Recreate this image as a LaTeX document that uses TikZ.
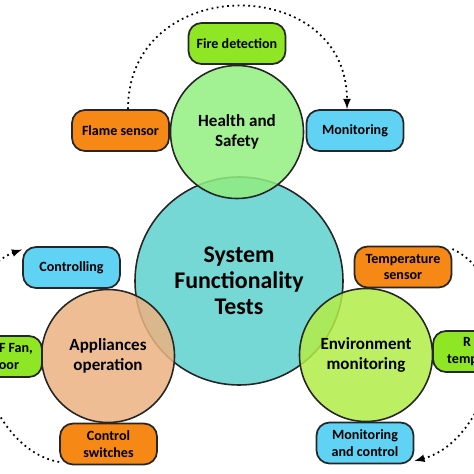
\documentclass[tikz,border=0pt]{standalone}
\usepackage{fontspec}
\setmainfont{Carlito}
\usepackage{tikz}

\definecolor{hubteal}{RGB}{118,216,212}
\definecolor{safegreen}{RGB}{146,238,128}
\definecolor{appltan}{RGB}{236,178,128}
\definecolor{envlime}{RGB}{178,236,70}
\definecolor{boxlime}{RGB}{142,230,36}
\definecolor{boxorange}{RGB}{246,136,22}
\definecolor{boxblue}{RGB}{96,210,244}

\begin{document}
\begin{tikzpicture}[x=0.2mm,y=0.2mm,
  hub/.style={circle, draw=black!85, line width=0.9pt, fill=hubteal, minimum size=41.6mm,
    align=center, font=\fontsize{13.6}{14.8}\selectfont\bfseries},
  topic/.style={circle, draw=black!85, line width=0.9pt, fill opacity=0.85, text opacity=1,
    minimum size=26.6mm, align=center, font=\fontsize{9.7}{11}\selectfont\bfseries},
  item/.style={draw=black!85, line width=1pt, rounded corners=2.6mm, minimum width=19.4mm,
    minimum height=8.2mm, inner sep=1pt, align=center, font=\fontsize{8}{9.4}\selectfont\bfseries},
  loop/.style={dotted, line width=1pt, -latex}]
\useasboundingbox (0,0) rectangle (474,-474);
\clip (0,0) rectangle (474,-474);

% centre and the three test areas
\node[hub] (sft) at (239,-281) {System\\Functionality\\Tests};
\node[topic, fill=safegreen] (safety) at (237,-132) {Health and\\Safety};
\node[topic, fill=appltan] (appl) at (108,-356) {Appliances\\operation};
\node[topic, fill=envlime] (env) at (366,-355) {Environment\\monitoring};

% health and safety
\node[item, fill=boxlime] (fire) at (237,-43.5) {Fire detection};
\node[item, fill=boxorange] (flame) at (120.5,-130.5) {Flame sensor};
\node[item, fill=boxblue] (monit) at (355,-130.5) {Monitoring};

% appliances operation
\node[item, fill=boxblue] (ctrl) at (71.5,-267.5) {Controlling};
\node[item, fill=boxlime] (fan) at (-6.5,-356.5) {\hspace*{25.5pt}F Fan,\\\hspace*{17.6pt}oor};
\node[item, fill=boxorange] (switch) at (108.5,-444) {Control\\switches};

% environment monitoring
\node[item, fill=boxorange] (temp) at (403,-267) {Temperature\\sensor};
\node[item, fill=boxlime] (room) at (481.5,-351.5) {R\hspace*{16.4pt}\\temp\hspace*{21.5pt}};
\node[item, fill=boxblue] (monctrl) at (365,-443) {Monitoring\\and control};

\draw[loop] ([xshift=1.5mm]flame.north) to[out=90, in=90, looseness=1.6] ([xshift=-1.6mm]monit.north);
\draw[loop] (switch.200) to[out=170, in=200] (ctrl.160);
\draw[loop] (temp.20) to[out=-25, in=15] (monctrl.-20);
\end{tikzpicture}
\end{document}
